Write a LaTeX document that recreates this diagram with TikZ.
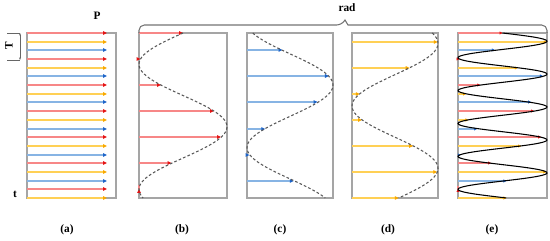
\documentclass[tikz,border=0pt]{standalone}
\usepackage{fontspec}
\setmainfont{Liberation Serif}
\usetikzlibrary{arrows.meta}

\definecolor{lnred}{RGB}{247,135,135}
\definecolor{tipred}{RGB}{228,20,20}
\definecolor{lnyel}{RGB}{255,208,85}
\definecolor{tipyel}{RGB}{248,168,0}
\definecolor{lnblu}{RGB}{135,180,228}
\definecolor{tipblu}{RGB}{30,100,200}
\definecolor{frame}{RGB}{165,165,165}

\tikzset{
  panel/.style={draw=frame,line width=0.8pt},
  ray/.style={line width=1.5pt},
  alias/.style={draw=black!65,dash pattern=on 2pt off 1.6pt,line width=0.8pt},
  brace/.style={draw=black!55,line width=0.8pt},
  lbl/.style={font=\bfseries\fontsize{8.5}{10}\selectfont,inner sep=0pt},
}

% colours of sample k: red, yellow, blue in turn; row y snapped to the pixel grid
\newcommand{\pickcol}[1]{%
  \pgfmathtruncatemacro\rr{mod(#1,3)}%
  \pgfmathsetmacro\yy{round(33+8.684*#1)}%
  \ifcase\rr\def\lncol{lnred}\def\tipcol{tipred}%
  \or\def\lncol{lnyel}\def\tipcol{tipyel}%
  \or\def\lncol{lnblu}\def\tipcol{tipblu}\fi}

\begin{document}
\begin{tikzpicture}[x=0.75pt,y=-0.75pt]
\useasboundingbox (0,0) rectangle (550,241);

% (a) all pulses
\draw[panel] (27,33) rectangle (116,198);
\foreach \k in {0,...,19} {
  \pickcol{\k}
  \draw[ray,draw=\lncol,-{Triangle[length=3pt,width=2.6pt,color=\tipcol]}]
    (27,\yy) -- (107,\yy);
}
\draw[black!60,line width=0.7pt] (7,33) -- (20,33) (7,60) -- (20,60);
\draw[black!60,line width=0.7pt,{Stealth[length=2pt]}-{Stealth[length=2pt]}] (20,33) -- (20,60);
\node[lbl,rotate=90] (T) at (9,46) {T};
\node[lbl] (P) at (97,16) {P};
\node[lbl] (t) at (15,194) {t};

% (b)-(d) every third pulse
\foreach \xl/\xr/\r in {139/227/0,247/333/2,352/438/1} {
  \pgfmathsetmacro\xm{(\xl+\xr)/2}
  \pgfmathsetmacro\amp{(\xr-\xl)/2}
  \draw[panel] (\xl,33) rectangle (\xr,198);
  \foreach \m in {0,...,6} {
    \pgfmathtruncatemacro\k{3*\m+\r}
    \ifnum\k<20
      \pickcol{\k}
      \draw[ray,draw=\lncol,-{Triangle[length=3pt,width=2.6pt,color=\tipcol]}]
        (\xl,\yy) -- ({\xm+\amp*cos(120*\r-90-25*\k)},\yy);
    \fi
  }
  \draw[alias] plot[domain=0:19,samples=90,smooth]
    ({\xm+\amp*cos(120*\r-90-25*\x)},{33+8.684*\x});
}

% (e) all pulses on the true curve
\draw[panel] (458,33) rectangle (547,198);
\foreach \k in {0,...,19} {
  \pickcol{\k}
  \draw[ray,draw=\lncol,-{Triangle[length=2.2pt,width=2.2pt,color=\tipcol]}]
    (458,\yy) -- ({502.5+44.5*sin(95*\k)},\yy);
}
\draw[black,line width=0.8pt] plot[domain=0:19,samples=220,smooth]
  ({502.5+44.5*sin(95*\x)},{33+8.684*\x});

% brace over (b)-(e)
\draw[brace] (139,33) [rounded corners=4pt] -- (139,25) -- (342,25)
  [sharp corners] -- (345,20) -- (348,25) [rounded corners=4pt] -- (547,25) -- (547,33);
\node[lbl] (rad) at (347,8) {rad};

\node[lbl] (la) at (67,230) {(a)};
\node[lbl] (lb) at (182,230) {(b)};
\node[lbl] (lc) at (280,230) {(c)};
\node[lbl] (ld) at (388,230) {(d)};
\node[lbl] (le) at (492,230) {(e)};
\end{tikzpicture}
\end{document}
